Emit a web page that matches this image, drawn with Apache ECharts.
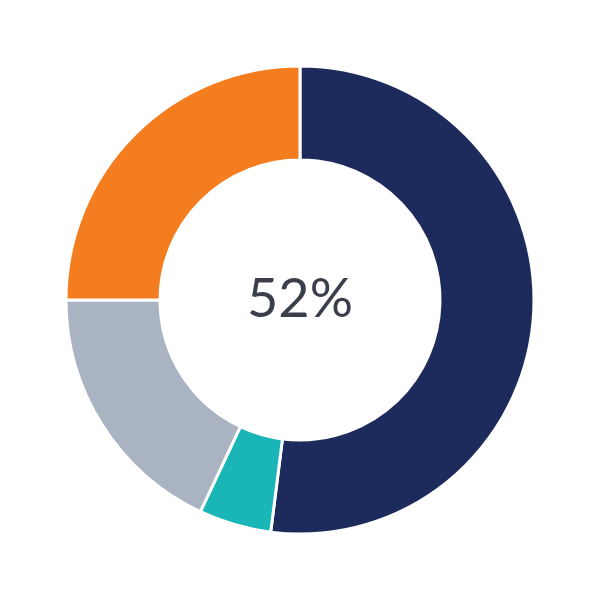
<!DOCTYPE html>
<html>
<head>
<meta charset="utf-8">
<script src="https://cdn.jsdelivr.net/npm/echarts@6/dist/echarts.min.js"></script>
<style>html,body{margin:0;padding:0;background:#fff;}#c{width:600px;height:600px;}</style>
</head>
<body>
<div id="c"></div>
<script>
const categories = ['A', 'B', 'C', 'D'];
const values = [52, 5, 18, 25];
const colors = ['#1c2b5b', '#19b5b7', '#a9b3c1', '#f47d20'];
const centerLabel = '52%';

const chart = echarts.init(document.getElementById('c'));
chart.setOption({
  animation: false,
  backgroundColor: '#fff',
  graphic: [{
    type: 'text',
    left: 'center',
    top: 'middle',
    style: {
      text: centerLabel,
      fontFamily: 'Lato',
      fontWeight: 'normal',
      fontSize: 54,
      fill: '#3a3f4b'
    }
  }],
  series: [{
    type: 'pie',
    center: ['50%', '50%'],
    radius: [140, 234],
    startAngle: 90,
    clockwise: true,
    label: { show: false },
    labelLine: { show: false },
    itemStyle: { borderColor: '#fff', borderWidth: 3 },
    data: categories.map((c, i) => ({ name: c, value: values[i], itemStyle: { color: colors[i] } }))
  }]
});
</script>
</body>
</html>
